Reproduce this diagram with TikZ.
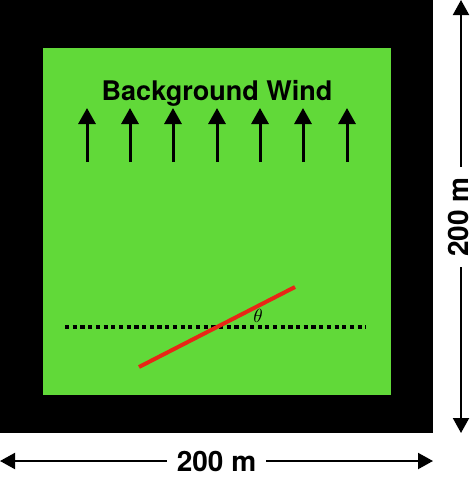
\documentclass[tikz,border=0pt]{standalone}
\usepackage{fontspec}
\setmainfont{TeX Gyre Heros}
\usetikzlibrary{arrows.meta}
\definecolor{fieldgreen}{RGB}{97,217,57}
\definecolor{bladered}{RGB}{232,38,22}
\tikzset{
  windarrow/.style={line width=3pt,-{Triangle[length=16pt,width=17pt]}},
  dimarrow/.style={line width=2pt,{Triangle[length=15pt,width=16pt]}-{Triangle[length=15pt,width=16pt]}},
  dimlabel/.style={fill=white,inner xsep=10pt,inner ysep=0pt,font=\bfseries\fontsize{28}{28}\selectfont},
}
\begin{document}
\begin{tikzpicture}[x=1pt,y=-1pt]
\useasboundingbox (0,0) rectangle (474,479);
\fill[white] (0,0) rectangle (474,479);
\fill[black] (0,0) rectangle (433,433);
\fill[fieldgreen] (43,48) rectangle (391,395);
\node[font=\bfseries\fontsize{27}{27}\selectfont,inner sep=0pt] (title) at (217,93) {Background Wind};
\foreach \x [count=\i] in {87,130,173,217,260,303,347}{
  \coordinate (wb\i) at (\x,162);
  \coordinate (wt\i) at (\x,108);
  \draw[windarrow] (wb\i) -- (wt\i);
}
\coordinate (dl) at (65,327);
\coordinate (dr) at (366,327);
\draw[line width=4.2pt,dash pattern=on 4.2pt off 3.5pt] (dl) -- (dr);
\coordinate (ra) at (139,367);
\coordinate (rb) at (295,287);
\draw[bladered,line width=4pt] (ra) -- (rb);
\node[inner sep=0pt,scale=1.9] (theta) at (258,316) {$\theta$};
\coordinate (hl) at (0,461);
\coordinate (hr) at (433,461);
\draw[dimarrow] (hl) -- node[dimlabel] (hlab) {200 m} (hr);
\coordinate (vt) at (461,0);
\coordinate (vb) at (461,433);
\draw[dimarrow] (vt) -- (vb);
\node[dimlabel,rotate=90] (vlab) at (458.5,217) {200 m};
\end{tikzpicture}
\end{document}
